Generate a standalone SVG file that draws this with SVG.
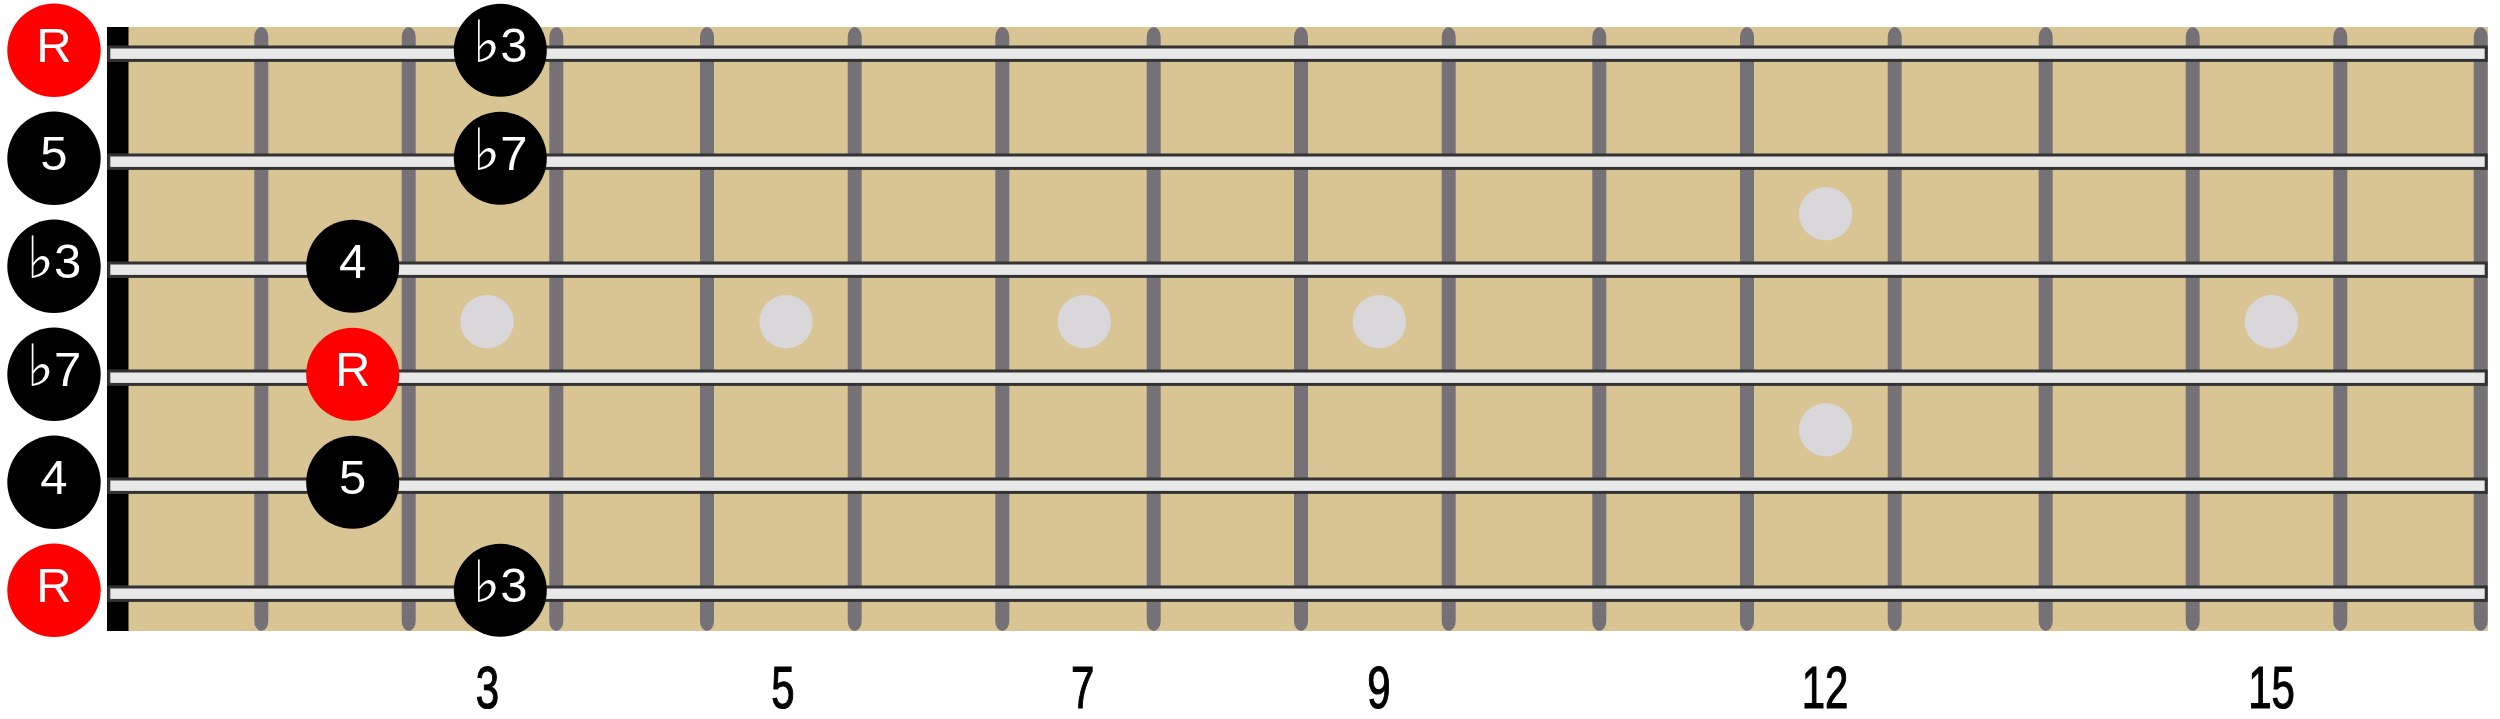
<svg xmlns="http://www.w3.org/2000/svg" width="2500" height="719" viewBox="0 0 2500 719">
<style>
.board{fill:#d9c494}
.nut{fill:#000}
.fret{fill:#757177}
.inlay{fill:#d9d7da}
.str{fill:#e8e8e8;stroke:#333;stroke-width:3}
.note{fill:#000}
.root{fill:#ff0000}
.lbl{fill:#fff;font-family:"Liberation Sans",Arial,sans-serif;font-size:49px;text-anchor:middle}
.flat{font-family:"DejaVu Serif",serif;font-size:58px}
.num{fill:#000;font-family:"Liberation Sans Narrow","Liberation Sans",Arial,sans-serif;font-size:60px;text-anchor:middle;stroke:#000;stroke-width:1.2}
</style>
<rect width="2500" height="719" fill="#fff"/>
<g id="fretboard">
<rect class="board" x="107" y="27" width="2381" height="604"/>
<rect class="nut" x="107" y="27" width="21.5" height="604"/>
<g id="frets">
<rect class="fret" x="254.3" y="27" width="14" height="604" rx="7" ry="10"/>
<rect class="fret" x="401.7" y="27" width="14" height="604" rx="7" ry="10"/>
<rect class="fret" x="549.3" y="27" width="14" height="604" rx="7" ry="10"/>
<rect class="fret" x="700" y="27" width="14" height="604" rx="7" ry="10"/>
<rect class="fret" x="847.7" y="27" width="14" height="604" rx="7" ry="10"/>
<rect class="fret" x="995.3" y="27" width="14" height="604" rx="7" ry="10"/>
<rect class="fret" x="1146.7" y="27" width="14" height="604" rx="7" ry="10"/>
<rect class="fret" x="1294" y="27" width="14" height="604" rx="7" ry="10"/>
<rect class="fret" x="1441.7" y="27" width="14" height="604" rx="7" ry="10"/>
<rect class="fret" x="1592.3" y="27" width="14" height="604" rx="7" ry="10"/>
<rect class="fret" x="1740" y="27" width="14" height="604" rx="7" ry="10"/>
<rect class="fret" x="1887.7" y="27" width="14" height="604" rx="7" ry="10"/>
<rect class="fret" x="2038.7" y="27" width="14" height="604" rx="7" ry="10"/>
<rect class="fret" x="2185.7" y="27" width="14" height="604" rx="7" ry="10"/>
<rect class="fret" x="2333.3" y="27" width="14" height="604" rx="7" ry="10"/>
<rect class="fret" x="2473.7" y="27" width="14" height="604" rx="7" ry="10"/>
</g>
<g id="inlays">
<circle class="inlay" cx="487" cy="321.7" r="26.7"/>
<circle class="inlay" cx="786" cy="321.7" r="26.7"/>
<circle class="inlay" cx="1084.3" cy="321.7" r="26.7"/>
<circle class="inlay" cx="1379.3" cy="321.7" r="26.7"/>
<circle class="inlay" cx="1825.7" cy="213.7" r="26.7"/>
<circle class="inlay" cx="1825.7" cy="429.7" r="26.7"/>
<circle class="inlay" cx="2271.5" cy="321.7" r="26.7"/>
</g>
<g id="strings">
<rect class="str" x="108.8" y="47" width="2377.4" height="13.4"/>
<rect class="str" x="108.8" y="155" width="2377.4" height="13.4"/>
<rect class="str" x="108.8" y="263" width="2377.4" height="13.4"/>
<rect class="str" x="108.8" y="371" width="2377.4" height="13.4"/>
<rect class="str" x="108.8" y="479" width="2377.4" height="13.4"/>
<rect class="str" x="108.8" y="587" width="2377.4" height="13.4"/>
</g>
</g>
<g id="connectors"></g>
<g id="open-notes">
<g id="open1"><circle class="root" cx="54" cy="50.3" r="46.7"/><text class="lbl" x="54" y="62">R</text></g>
<g id="open2"><circle class="note" cx="54" cy="158.3" r="46.7"/><text class="lbl" x="54" y="170">5</text></g>
<g id="open3"><circle class="note" cx="54" cy="266.3" r="46.7"/><text class="lbl" x="54" y="278"><tspan class="flat">♭</tspan>3</text></g>
<g id="open4"><circle class="note" cx="54" cy="374.3" r="46.7"/><text class="lbl" x="54" y="386"><tspan class="flat">♭</tspan>7</text></g>
<g id="open5"><circle class="note" cx="54" cy="482.3" r="46.7"/><text class="lbl" x="54" y="494">4</text></g>
<g id="open6"><circle class="root" cx="54" cy="590.3" r="46.7"/><text class="lbl" x="54" y="602">R</text></g>
</g>
<g id="fretted-notes">
<g id="s1f3"><circle class="note" cx="500.3" cy="50.3" r="46.5"/><text class="lbl" x="500.3" y="62"><tspan class="flat">♭</tspan>3</text></g>
<g id="s2f3"><circle class="note" cx="500.3" cy="158.3" r="46.5"/><text class="lbl" x="500.3" y="170"><tspan class="flat">♭</tspan>7</text></g>
<g id="s3f2"><circle class="note" cx="352.7" cy="266.3" r="46.5"/><text class="lbl" x="352.7" y="278">4</text></g>
<g id="s4f2"><circle class="root" cx="352.7" cy="374.3" r="46.5"/><text class="lbl" x="352.7" y="386">R</text></g>
<g id="s5f2"><circle class="note" cx="352.7" cy="482.3" r="46.5"/><text class="lbl" x="352.7" y="494">5</text></g>
<g id="s6f3"><circle class="note" cx="500.3" cy="590.3" r="46.5"/><text class="lbl" x="500.3" y="602"><tspan class="flat">♭</tspan>3</text></g>
</g>
<g id="fret-numbers">
<text class="num" transform="translate(487.5 708) scale(0.7 1)">3</text>
<text class="num" transform="translate(783 708) scale(0.7 1)">5</text>
<text class="num" transform="translate(1082.6 708) scale(0.7 1)">7</text>
<text class="num" transform="translate(1379 708) scale(0.7 1)">9</text>
<text class="num" transform="translate(1825 708) scale(0.7 1)">12</text>
<text class="num" transform="translate(2271.6 708) scale(0.7 1)">15</text>
</g>
</svg>
